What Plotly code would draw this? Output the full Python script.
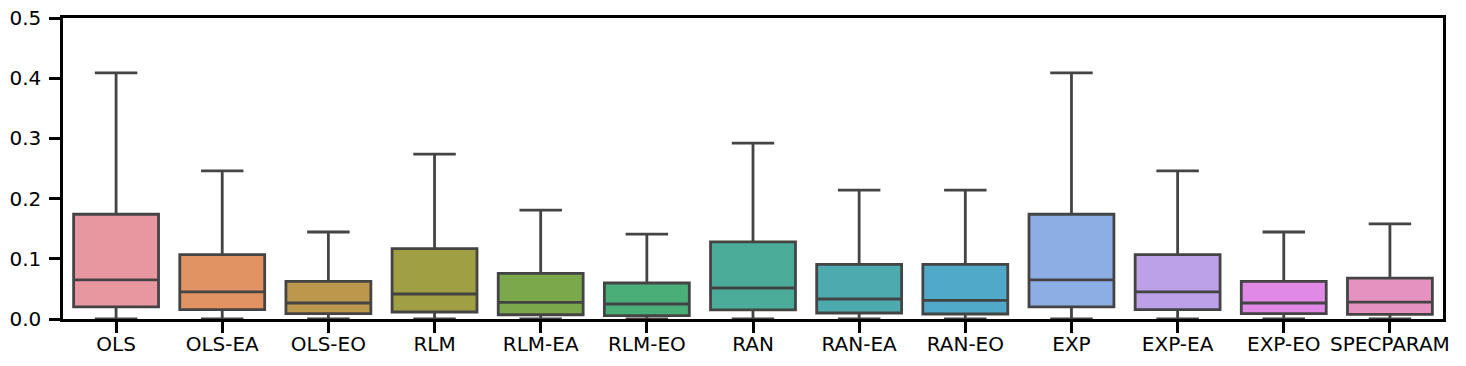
import plotly.graph_objects as go

categories = ["OLS", "OLS-EA", "OLS-EO", "RLM", "RLM-EA", "RLM-EO", "RAN",
              "RAN-EA", "RAN-EO", "EXP", "EXP-EA", "EXP-EO", "SPECPARAM"]
lower = [0.0] * 13
q1 = [0.020, 0.0155, 0.0088, 0.0116, 0.0071, 0.0055, 0.015, 0.010, 0.0083,
      0.020, 0.0155, 0.0088, 0.0077]
median = [0.065, 0.045, 0.0266, 0.0415, 0.0276, 0.0249, 0.0515, 0.0332, 0.031,
          0.065, 0.045, 0.0266, 0.028]
q3 = [0.174, 0.107, 0.0625, 0.1168, 0.0757, 0.0598, 0.128, 0.0907, 0.0907,
      0.174, 0.107, 0.0625, 0.068]
upper = [0.409, 0.246, 0.1445, 0.274, 0.181, 0.141, 0.292, 0.214, 0.214,
         0.409, 0.246, 0.1445, 0.158]
colors = ["#E8969F", "#E29363", "#BD984C", "#A09F44", "#7BA84A", "#4AAE78",
          "#4BAC9A", "#4DAAAE", "#50A9C8", "#8DAEE4", "#BDA1E8", "#E189E6",
          "#E692C0"]

fig = go.Figure()
for i, c in enumerate(categories):
    fig.add_trace(go.Box(
        x=[c], q1=[q1[i]], median=[median[i]], q3=[q3[i]],
        lowerfence=[lower[i]], upperfence=[upper[i]],
        fillcolor=colors[i], line=dict(color="#444444", width=2.8),
        width=0.8, whiskerwidth=0.5, boxpoints=False, showlegend=False,
        hoverinfo="skip",
    ))

font = dict(family="DejaVu Sans", size=20, color="black")
fig.update_layout(
    template="none",
    width=1466, height=366,
    margin=dict(l=63, r=23, t=18, b=47, pad=0),
    paper_bgcolor="white", plot_bgcolor="white",
    boxmode="overlay", font=font,
)
fig.update_xaxes(
    type="category", categoryorder="array", categoryarray=categories,
    range=[-0.5, 12.5], showline=True, linecolor="black", linewidth=2.5,
    mirror=True, ticks="outside", ticklen=11, tickwidth=2.5, tickcolor="black",
    showgrid=False, zeroline=False, tickfont=font, automargin=False,
    ticklabelstandoff=-6,
)
fig.update_yaxes(
    range=[0, 0.5], dtick=0.1, tickformat=".1f", showline=True,
    linecolor="black", linewidth=2.5, mirror=True, ticks="outside",
    ticklen=11, tickwidth=2.5, tickcolor="black", showgrid=False,
    zeroline=False, tickfont=font, automargin=False, ticklabelstandoff=4,
)
fig.write_html("out.html", config={"displayModeBar": False},
               post_script="document.body.style.margin='0';")
